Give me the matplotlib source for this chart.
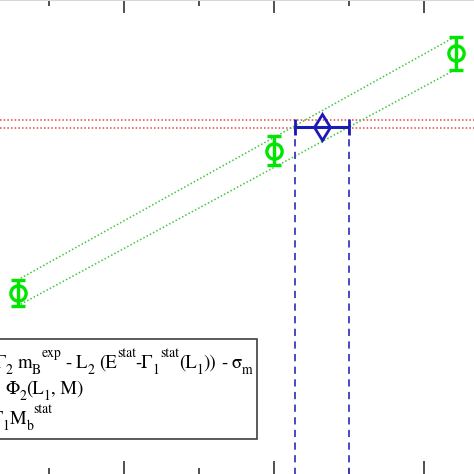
import matplotlib.pyplot as plt
from matplotlib.patches import Rectangle
from matplotlib.ticker import FixedLocator
import numpy as np

plt.rcParams['font.family'] = ['STIXGeneral', 'DejaVu Serif']

# lattice points (green) with errors
x_pts = np.array([0.29, 2.00, 3.21])
y_pts = np.array([1.81, 3.235, 4.21])
y_err = np.array([0.13, 0.145, 0.165])

# experimental band (red)
y_exp = 3.50
y_exp_err = 0.036

# result (blue)
x_res = 2.32
x_res_err = 0.18
y_res = 3.47

major_ticks = [1.0, 2.0, 3.0]
minor_ticks = [0.5, 1.5, 2.5]

# legend lines as runs of (text, kind); ' ' kind is a word gap
legend_lines = [
    [('Γ', 'n'), ('2', 'sub'), ('', ' '), ('m', 'n'), ('B', 'sub'), ('exp', 'sup'),
     ('', ' '), ('-', 'n'), ('', ' '), ('L', 'n'), ('2', 'sub'), ('', ' '),
     ('(E', 'n'), ('stat', 'sup'), ('-Γ', 'n'), ('1', 'sub'), ('stat', 'sup'),
     ('(L', 'n'), ('1', 'sub'), ('))', 'n'), ('', ' '), ('-', 'n'), ('', ' '),
     ('σ', 'n'), ('m', 'sub')],
    [('Φ', 'n'), ('2', 'sub'), ('(L', 'n'), ('1', 'sub'), (', M)', 'n')],
    [('Γ', 'n'), ('1', 'sub'), ('M', 'n'), ('b', 'sub'), ('stat', 'sup')],
]

W = H = 474
fig = plt.figure(figsize=(4.74, 4.74), dpi=100)
ax = fig.add_axes([0, 0, 1, 1])
ax.set_xlim(0.1733, 3.3333)
ax.set_ylim(0.0, 4.74)

green = '#00e600'
blue = '#1a1ab4'

# red band
for yy in (y_exp + y_exp_err, y_exp - y_exp_err):
    ax.axhline(yy, color='#e04848', lw=1.1, ls=(0, (1, 1.4)), zorder=1)

# dotted envelope lines through error bar ends
ax.plot(x_pts[[0, -1]], (y_pts + y_err)[[0, -1]], color='#40c840', lw=1.1,
        ls=(0, (1, 1.4)), zorder=2)
ax.plot(x_pts[[0, -1]], (y_pts - y_err)[[0, -1]], color='#40c840', lw=1.1,
        ls=(0, (1, 1.4)), zorder=2)

ax.errorbar(x_pts, y_pts, yerr=y_err, fmt='o', ms=11, mfc='none', mec=green,
            mew=2.4, color=green, elinewidth=2.4, capsize=5, capthick=2.4, zorder=4)

# vertical dashed lines from result
ax.vlines([x_res - x_res_err, x_res + x_res_err], -1, y_res, colors='#3a3ac0',
          lw=1.3, linestyles=(0, (4, 3)), zorder=3)

ax.errorbar([x_res], [y_res], xerr=[x_res_err], fmt='d', ms=13, mfc='none',
            mec=blue, mew=2.0, color=blue, elinewidth=2.2, capsize=6,
            capthick=2.2, zorder=5)

# axes styling: only top edge, ticks top and bottom
for side in ('left', 'right', 'bottom'):
    ax.spines[side].set_visible(False)
ax.spines['top'].set_color('#d8d8d8')
ax.spines['top'].set_linewidth(1.5)
ax.xaxis.set_major_locator(FixedLocator(major_ticks))
ax.xaxis.set_minor_locator(FixedLocator(minor_ticks))
ax.tick_params(axis='x', which='both', direction='in', top=True, bottom=True,
               labelbottom=False, labeltop=False, color='#202020', width=1.1)
ax.tick_params(axis='x', which='major', length=9.5)
ax.tick_params(axis='x', which='minor', length=4.5)
ax.set_yticks([])

# legend box
fig.patches.append(Rectangle((-0.05, 35 / H), 0.05 + 257 / W, 100 / H,
                             transform=fig.transFigure, facecolor='white',
                             edgecolor='#404040', lw=1.2, zorder=10))

fs_main = 13.5
fs_script = 9.8
renderer = fig.canvas.get_renderer()
ys = [368, 394, 424]
xs = [-5, 5, -8]
for runs, px, py in zip(legend_lines, xs, ys):
    x = px
    for s, kind in runs:
        if kind == ' ':
            x += 4.5
            continue
        size = fs_main if kind == 'n' else fs_script
        dy = {'n': 0, 'sub': 6, 'sup': -11}[kind]
        t = fig.text(x / W, 1 - (py + dy) / H, s, fontsize=size, ha='left',
                     va='baseline', color='black', zorder=11)
        x += t.get_window_extent(renderer).width

fig.savefig('out.png', dpi=100)
